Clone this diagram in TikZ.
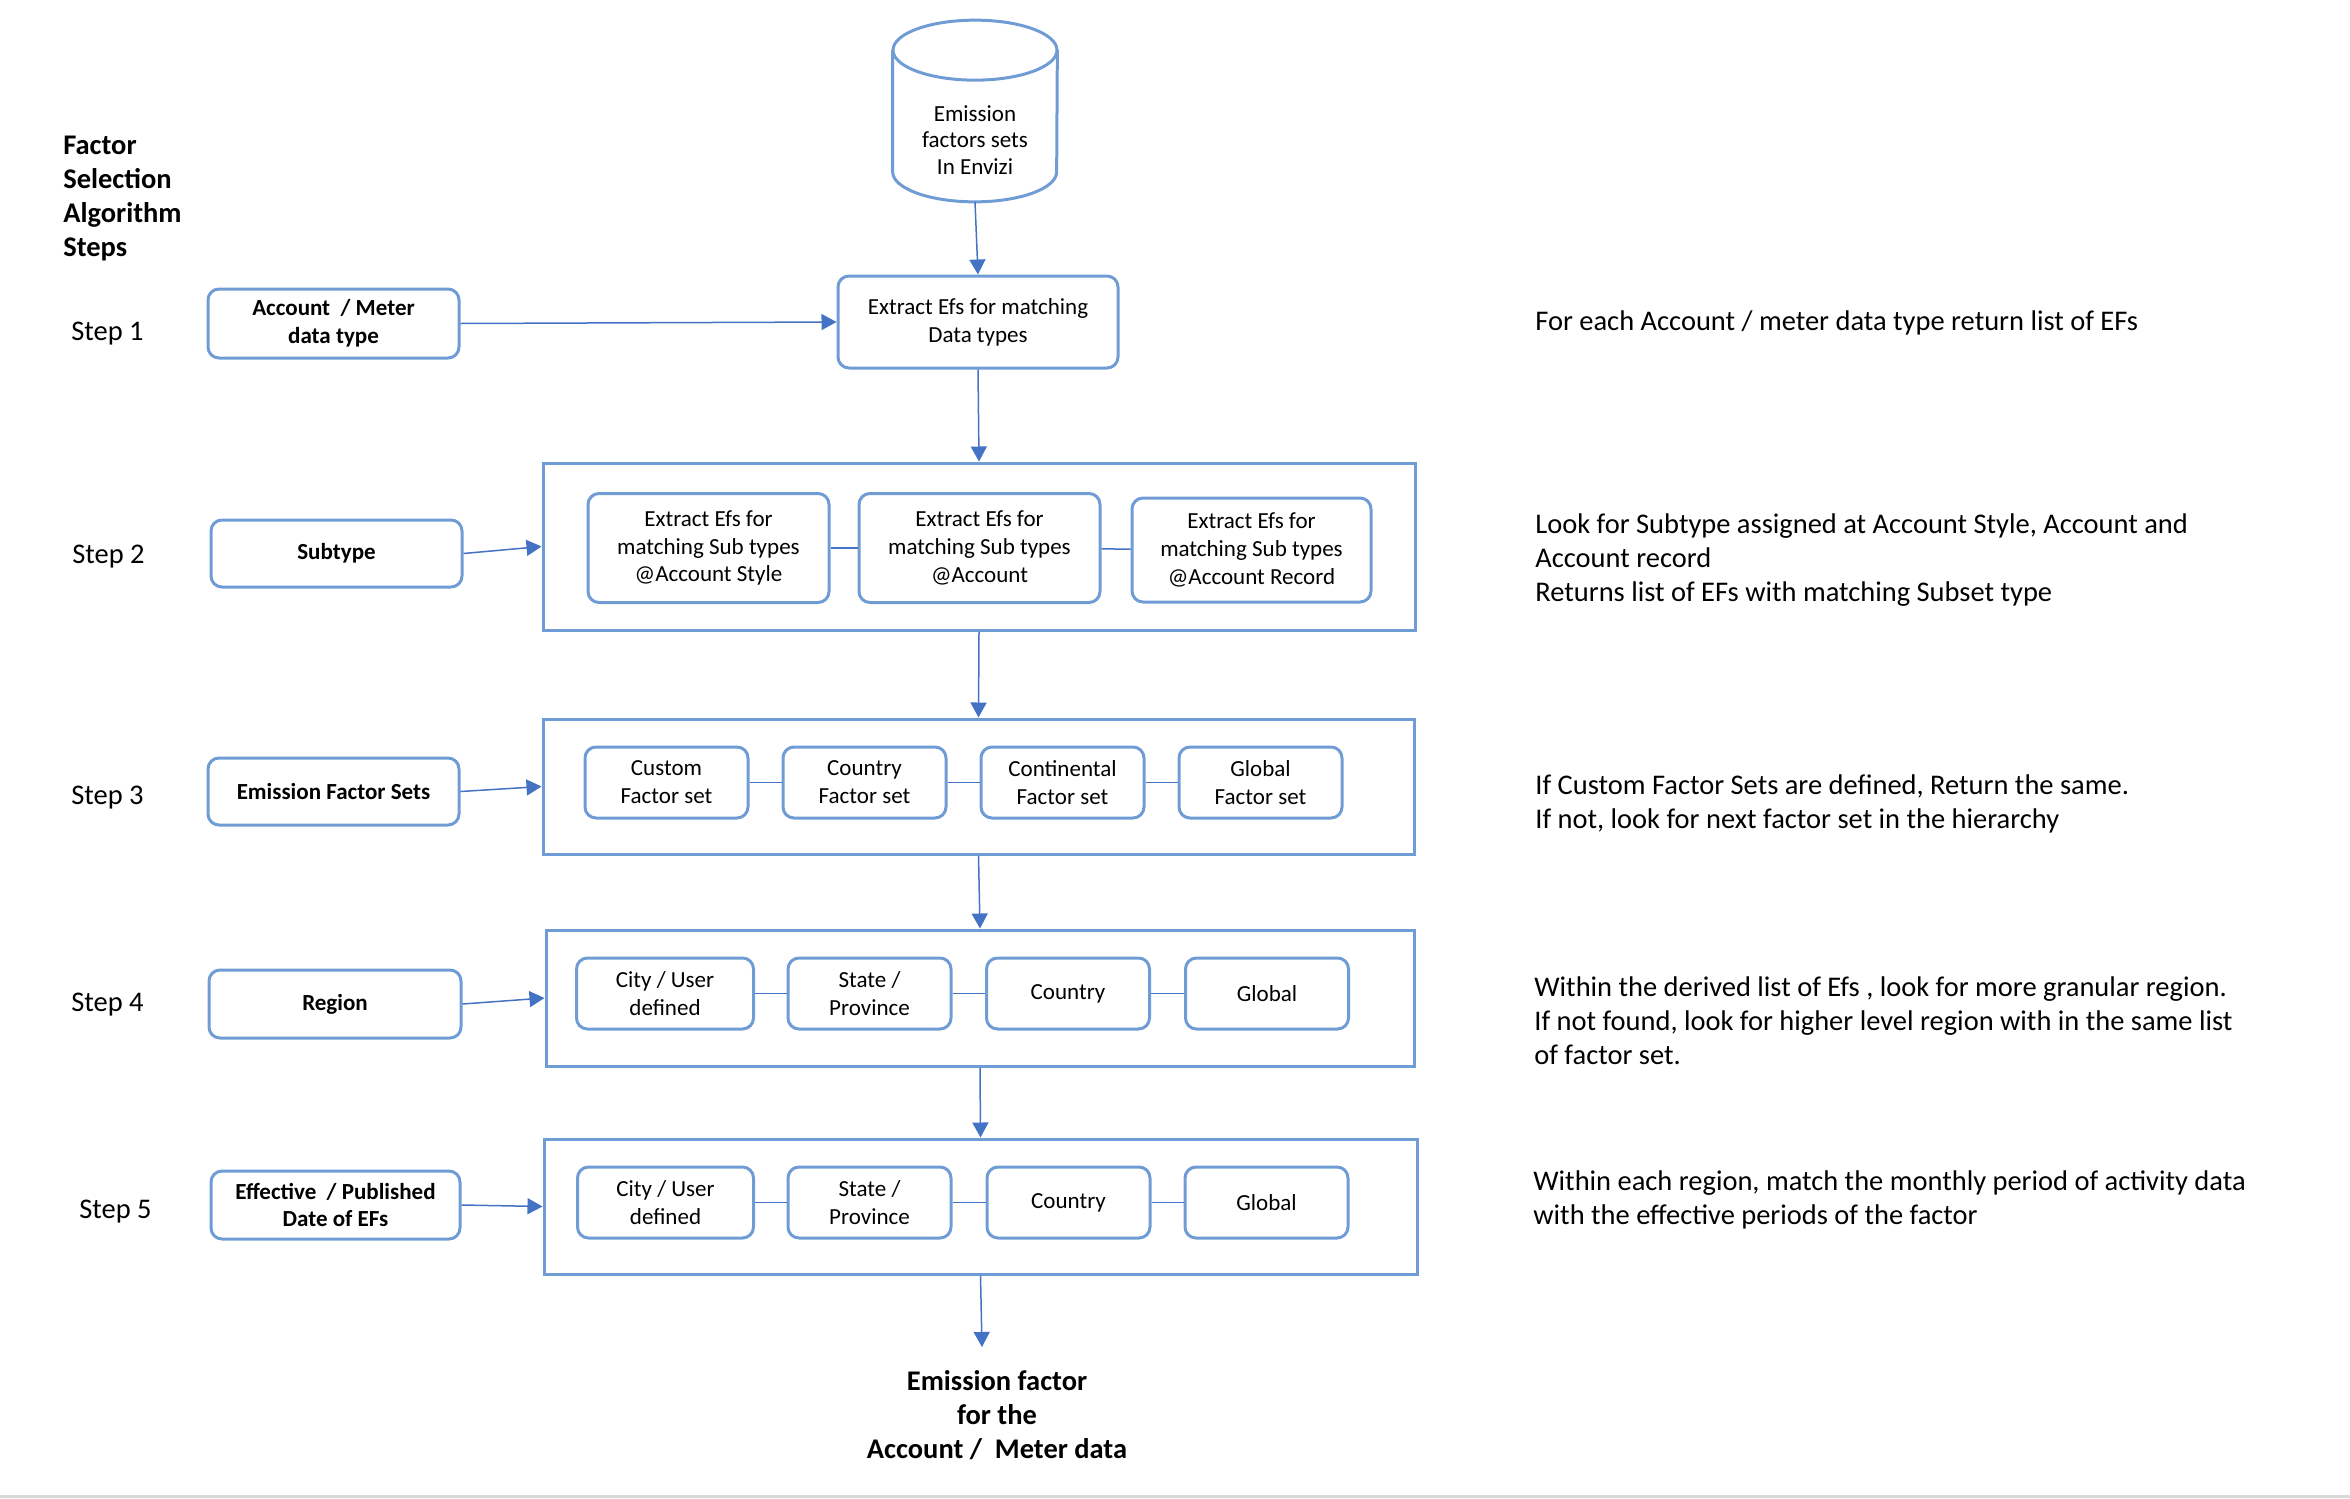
\documentclass[tikz,border=0pt]{standalone}
\usepackage{fontspec}
\setmainfont{Carlito}
\usetikzlibrary{arrows.meta}
\definecolor{boxblue}{HTML}{709CD5}
\definecolor{linkblue}{HTML}{4472C4}
\definecolor{stripgray}{HTML}{D9D9D9}

\begin{document}
\begin{tikzpicture}[
  box/.style={draw=boxblue, line width=0.06cm, rounded corners=0.22cm, align=center, inner sep=0pt, font=\fontsize{13.1}{15.9}\selectfont},
  stepbox/.style={box, font=\bfseries\fontsize{13.1}{15.9}\selectfont},
  frame/.style={draw=boxblue, line width=0.06cm, inner sep=0pt},
  link/.style={draw=linkblue, line width=0.03cm, -{Triangle[width=0.32cm,length=0.3cm]}},
  tie/.style={draw=linkblue, line width=0.03cm},
  big/.style={font=\fontsize{16.2}{19.4}\selectfont, align=left, inner sep=0pt},
]
\useasboundingbox (0,0) rectangle (47,-29.96);
\fill[stripgray] (0,-29.9) rectangle (47,-29.96);

% Title and steps
\node[big, anchor=west, font=\bfseries\fontsize{16.2}{19.4}\selectfont] (title) at (1.26,-3.97) {Factor\\Selection\\Algorithm\\Steps};
\node[big, anchor=west] (step1) at (1.42,-6.68) {Step 1};
\node[big, anchor=west] (step2) at (1.44,-11.14) {Step 2};
\node[big, anchor=west] (step3) at (1.42,-15.96) {Step 3};
\node[big, anchor=west] (step4) at (1.42,-20.1) {Step 4};
\node[big, anchor=west] (step5) at (1.58,-24.24) {Step 5};

% Database
\node[minimum width=3.28cm, minimum height=3.62cm, inner sep=0pt] (db) at (19.5,-2.22) {};
\draw[frame] ([yshift=-0.6cm]db.north west) -- ([yshift=0.6cm]db.south west)
  arc[start angle=180, end angle=360, x radius=1.64cm, y radius=0.6cm] -- ([yshift=-0.6cm]db.north east);
\draw[frame] ([yshift=-0.6cm]db.north) ellipse[x radius=1.64cm, y radius=0.6cm];
\node[align=center, inner sep=0pt, font=\fontsize{13.1}{15.3}\selectfont] (dbtext) at (19.5,-2.8) {Emission\\factors sets\\In Envizi};

% Left boxes
\node[stepbox, minimum width=5.02cm, minimum height=1.38cm] (acct) at (6.67,-6.47) {Account\ \ / Meter\\data type};
\node[stepbox, minimum width=5.02cm, minimum height=1.34cm] (subtype) at (6.73,-11.07) {Subtype};
\node[stepbox, minimum width=5.02cm, minimum height=1.34cm] (efsets) at (6.67,-15.83) {Emission Factor Sets};
\node[stepbox, minimum width=5.04cm, minimum height=1.36cm] (region) at (6.70,-20.08) {Region};
\node[stepbox, minimum width=4.98cm, minimum height=1.36cm] (effdate) at (6.71,-24.10) {Effective\ \ / Published\\Date of EFs};

% Step 1
\node[box, minimum width=5.6cm, minimum height=1.84cm] (extract) at (19.56,-6.44) {Extract Efs for matching\\Data types};

% Step 2
\node[frame, minimum width=17.44cm, minimum height=3.34cm] (frame2) at (19.58,-10.93) {};
\node[box, minimum width=4.82cm, minimum height=2.18cm] (sub1) at (14.17,-10.96) {Extract Efs for\\matching Sub types\\@Account Style};
\node[box, minimum width=4.82cm, minimum height=2.18cm] (sub2) at (19.59,-10.96) {Extract Efs for\\matching Sub types\\@Account};
\node[box, minimum width=4.78cm, minimum height=2.08cm] (sub3) at (25.03,-11.0) {Extract Efs for\\matching Sub types\\@Account Record};

% Step 3
\node[frame, minimum width=17.42cm, minimum height=2.7cm] (frame3) at (19.57,-15.73) {};
\node[box, minimum width=3.26cm, minimum height=1.42cm] (set1) at (13.33,-15.65) {Custom\\Factor set};
\node[box, minimum width=3.26cm, minimum height=1.42cm] (set2) at (17.29,-15.65) {Country\\Factor set};
\node[box, minimum width=3.26cm, minimum height=1.42cm] (set3) at (21.25,-15.65) {Continental\\Factor set};
\node[box, minimum width=3.26cm, minimum height=1.42cm] (set4) at (25.21,-15.65) {Global\\Factor set};

% Step 4
\node[frame, minimum width=17.36cm, minimum height=2.72cm] (frame4) at (19.6,-19.96) {};
\node[box, minimum width=3.54cm, minimum height=1.42cm] (reg1) at (13.3,-19.87) {City / User\\defined};
\node[box, minimum width=3.26cm, minimum height=1.42cm] (reg2) at (17.39,-19.87) {State /\\Province};
\node[box, minimum width=3.26cm, minimum height=1.42cm] (reg3) at (21.36,-19.87) {Country};
\node[box, minimum width=3.26cm, minimum height=1.42cm] (reg4) at (25.34,-19.87) {Global};

% Step 5
\node[frame, minimum width=17.46cm, minimum height=2.7cm] (frame5) at (19.61,-24.13) {};
\node[box, minimum width=3.52cm, minimum height=1.42cm] (per1) at (13.31,-24.05) {City / User\\defined};
\node[box, minimum width=3.26cm, minimum height=1.42cm] (per2) at (17.39,-24.05) {State /\\Province};
\node[box, minimum width=3.26cm, minimum height=1.42cm] (per3) at (21.37,-24.05) {Country};
\node[box, minimum width=3.26cm, minimum height=1.42cm] (per4) at (25.33,-24.05) {Global};

% Result
\coordinate (resulttip) at (19.64,-26.94);
\node[big, align=center, font=\bfseries\fontsize{16.2}{19.4}\selectfont] (result) at (19.94,-28.3) {Emission factor\\for the\\Account /\ \ Meter data};

% Notes
\node[big, anchor=west] (note1) at (30.7,-6.46) {For each Account / meter data type return list of EFs};
\node[big, anchor=west] (note2) at (30.7,-11.2) {Look for Subtype assigned at Account Style, Account and\\Account record\\Returns list of EFs with matching Subset type};
\node[big, anchor=west] (note3) at (30.7,-16.08) {If Custom Factor Sets are defined, Return the same.\\If not, look for next factor set in the hierarchy};
\node[big, anchor=west] (note4) at (30.68,-20.42) {Within the derived list of Efs , look for more granular region.\\If not found, look for higher level region with in the same list\\of factor set.};
\node[big, anchor=west] (note5) at (30.66,-23.99) {Within each region, match the monthly period of activity data\\with the effective periods of the factor};

% Arrows
\draw[link] (db.south) -- (extract.north);
\draw[link] (acct.east) -- (extract.west);
\draw[link] (extract.south) -- (frame2.north);
\draw[link] (subtype.east) -- (frame2.west);
\draw[link] (frame2.south) -- (frame3.north);
\draw[link] (efsets.east) -- (frame3.west);
\draw[link] (frame3.south) -- (frame4.north);
\draw[link] (region.east) -- (frame4.west);
\draw[link] (frame4.south) -- (frame5.north);
\draw[link] (effdate.east) -- (frame5.west);
\draw[link] (frame5.south) -- (resulttip);

% Lines between boxes
\draw[tie] (sub1) -- (sub2);
\draw[tie] (sub2) -- (sub3);
\draw[tie] (set1) -- (set2);
\draw[tie] (set2) -- (set3);
\draw[tie] (set3) -- (set4);
\draw[tie] (reg1) -- (reg2);
\draw[tie] (reg2) -- (reg3);
\draw[tie] (reg3) -- (reg4);
\draw[tie] (per1) -- (per2);
\draw[tie] (per2) -- (per3);
\draw[tie] (per3) -- (per4);
\end{tikzpicture}
\end{document}
